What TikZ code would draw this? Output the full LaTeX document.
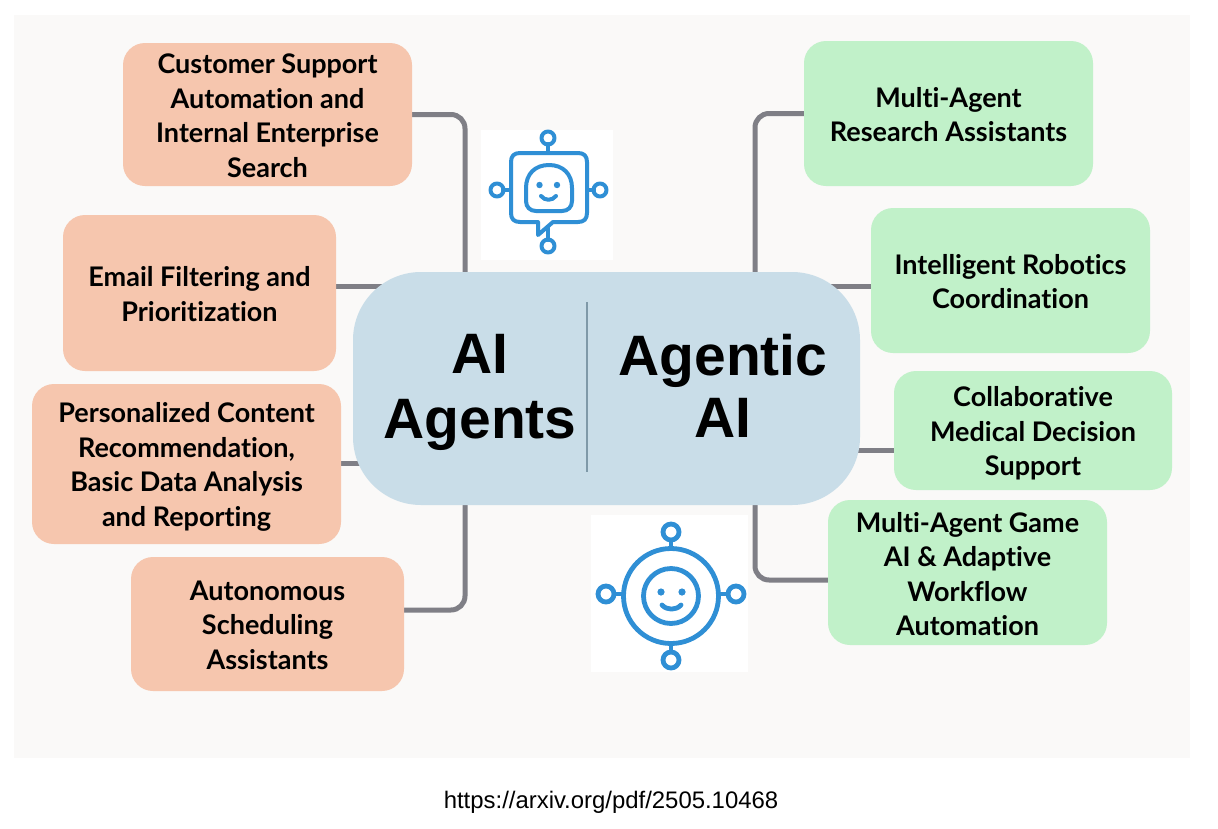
\documentclass[tikz,border=0pt]{standalone}
\usepackage{fontspec}
\setmainfont[Ligatures=NoCommon]{Lato}
\newfontfamily\titlefont{Liberation Sans}
\usetikzlibrary{backgrounds}
\newcommand{\pushdown}[1]{\rule{0pt}{\dimexpr 20pt+2\dimexpr #1pt\relax\relax}}
\definecolor{panel}{HTML}{FAF9F8}
\definecolor{orangebox}{HTML}{F6C6AE}
\definecolor{greenbox}{HTML}{C1F1C9}
\definecolor{bluebox}{HTML}{C9DDE8}
\definecolor{linkgray}{HTML}{7F7F86}
\definecolor{divgray}{HTML}{7F99A8}
\definecolor{iconblue}{HTML}{2F8FD5}
\tikzset{
  x=1pt,y=-1pt,
  card/.style={inner sep=0pt,outer sep=0pt,rounded corners=22pt,align=center,
    font=\fontsize{27}{34.5}\selectfont\bfseries,text=black},
  leftcard/.style={card,fill=orangebox},
  rightcard/.style={card,fill=greenbox},
  hub/.style={inner sep=0pt,outer sep=0pt,rounded corners=68pt,fill=bluebox,
    minimum width=507pt,minimum height=233pt},
  hubtext/.style={inner sep=0pt,align=center,text=black,
    font=\fontsize{57}{65}\selectfont\titlefont\bfseries},
  hubtextb/.style={inner sep=0pt,align=center,text=black,
    font=\fontsize{57}{62}\selectfont\titlefont\bfseries},
  link/.style={draw=linkgray,line width=5pt,rounded corners=14pt},
  iconline/.style={draw=iconblue,line width=4pt,line cap=round,line join=round},
  iconthick/.style={draw=iconblue,line width=4.8pt,line cap=round,line join=round},
}
\begin{document}
\begin{tikzpicture}
\useasboundingbox (0,0) rectangle (1218,828);
% hub
\node[hub] (hub) at (606.5,388.5) {};
\node[hubtext] (ailabel) at (480,392.5) {AI\\Agents};
\node[hubtextb] (aglabel) at (723,386) {Agentic\\AI};
\coordinate (divtop) at (587,302);
\coordinate (divbot) at (587,472);
\draw[divgray,line width=2.5pt] (divtop) -- (divbot);
% left cards
\node[leftcard,minimum width=289pt,minimum height=143pt] (c1) at (267.5,114.5) {\pushdown{1}Customer Support\\Automation and\\Internal Enterprise\\Search};
\node[leftcard,minimum width=273pt,minimum height=156pt] (c2) at (199.5,293) {\pushdown{1}Email Filtering and\\Prioritization};
\node[leftcard,minimum width=309pt,minimum height=160pt] (c3) at (186.5,464) {\pushdown{3}Personalized Content\\Recommendation,\\Basic Data Analysis\\and Reporting};
\node[leftcard,minimum width=273pt,minimum height=134pt] (c4) at (267.5,624) {\pushdown{1}Autonomous\\Scheduling\\Assistants};
% right cards
\node[rightcard,minimum width=289pt,minimum height=145pt] (r1) at (948.5,113.5) {\pushdown{1}Multi-Agent\\Research Assistants};
\node[rightcard,minimum width=279pt,minimum height=145pt] (r2) at (1010.5,280.5) {\pushdown{1}Intelligent Robotics\\Coordination};
\node[rightcard,minimum width=278pt,minimum height=119pt] (r3) at (1033,430.5) {\pushdown{3}Collaborative\\Medical Decision\\Support};
\node[rightcard,minimum width=279pt,minimum height=145pt] (r4) at (967.5,572.5) {\pushdown{1.5}Multi-Agent Game\\AI \& Adaptive\\Workflow\\Automation};
% connector ends
\coordinate (c1h) at (465,272);
\coordinate (c2s) at (336,286);
\coordinate (c2h) at (385,286);
\coordinate (c3s) at (341,463);
\coordinate (c3h) at (365,463);
\coordinate (c4s) at (404,610);
\coordinate (c4h) at (465,505);
\coordinate (r1h) at (755,272);
\coordinate (r2s) at (871,286);
\coordinate (r2h) at (830,286);
\coordinate (r3s) at (894,450);
\coordinate (r3h) at (850,450);
\coordinate (r4s) at (828,580);
\coordinate (r4h) at (755,505);
\begin{pgfonlayer}{background}
  \fill[panel] (14,15) rectangle (1190,758);
  \draw[link] (c1.east) -| (c1h);
  \draw[link] (c2s) -- (c2h);
  \draw[link] (c3s) -- (c3h);
  \draw[link] (c4s) -| (c4h);
  \draw[link] (r1.west) -| (r1h);
  \draw[link] (r2s) -- (r2h);
  \draw[link] (r3s) -- (r3h);
  \draw[link] (r4s) -| (r4h);
\end{pgfonlayer}
% top icon
\fill[white] (481,130) rectangle (613,260);
\draw[iconline] (548,153) -- (548,144);
\draw[iconline] (511,190) -- (503,190);
\draw[iconline] (587,190) -- (594,190);
\draw[iconline] (548,228) -- (548,240);
\draw[iconline] (548,138) circle[radius=6.5];
\draw[iconline] (497,190) circle[radius=6.5];
\draw[iconline] (600,190) circle[radius=6.5];
\draw[iconline] (548,246) circle[radius=6.5];
\draw[iconline,fill=white] (538,222) -- (520,222) .. controls (514,222) and (511,219) .. (511,213)
  -- (511,162) .. controls (511,156) and (514,153) .. (520,153)
  -- (578,153) .. controls (584,153) and (587,156) .. (587,162)
  -- (587,213) .. controls (587,219) and (584,222) .. (578,222)
  -- (553,222) -- (538,235) -- cycle;
\draw[iconline] (526,201) -- (526,188) .. controls (526,174) and (535,165) .. (549,165)
  .. controls (563,165) and (572,174) .. (572,188)
  -- (572,201) .. controls (572,207) and (568,211) .. (562,211)
  -- (536,211) .. controls (530,211) and (526,207) .. (526,201) -- cycle;
\fill[iconblue] (539.5,185) circle[radius=3.2];
\fill[iconblue] (557,185) circle[radius=3.2];
\draw[iconline] (541,196) .. controls (545,201) and (552,201) .. (556,196);
% bottom icon
\fill[white] (591,515) rectangle (748,672);
\draw[iconline] (671,548) -- (671,541);
\draw[iconline] (623,594) -- (615,594);
\draw[iconline] (719,594) -- (727,594);
\draw[iconline] (671,644) -- (671,651);
\draw[iconthick] (671,596) circle[radius=47.5];
\draw[iconthick] (671,596) circle[radius=27.5];
\draw[iconthick] (671,532) circle[radius=8];
\draw[iconthick] (606,594) circle[radius=8];
\draw[iconthick] (736,594) circle[radius=8];
\draw[iconthick] (671,660) circle[radius=8];
\fill[iconblue] (661,592) circle[radius=3.6];
\fill[iconblue] (682,592) circle[radius=3.6];
\draw[iconthick] (662,605) .. controls (667,610.5) and (676,610.5) .. (681,605);
% source
\node[inner sep=0pt,font=\fontsize{23.9}{27}\selectfont\titlefont,text=black] (src) at (611,802) {https://arxiv.org/pdf/2505.10468};
\end{tikzpicture}
\end{document}
